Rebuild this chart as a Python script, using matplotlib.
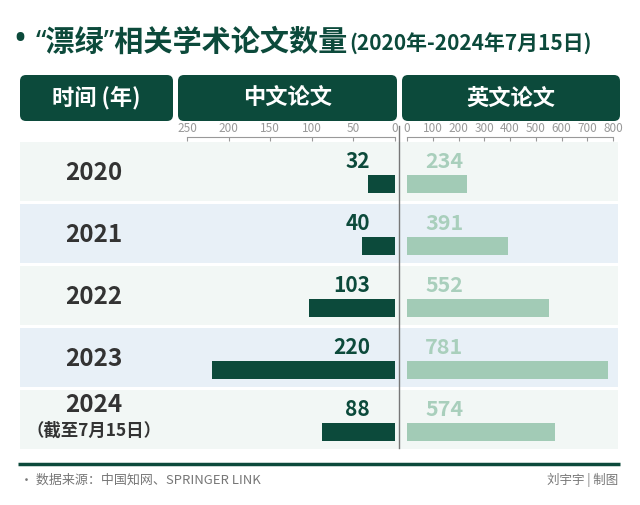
import matplotlib
matplotlib.use('Agg')
import matplotlib.pyplot as plt
from matplotlib.patches import FancyBboxPatch, Rectangle

plt.rcParams['font.family'] = ['Noto Sans CJK SC', 'DejaVu Sans']

# 数据
years = ['2020', '2021', '2022', '2023', '2024']
cn_papers = [32, 40, 103, 220, 88]
en_papers = [234, 391, 552, 781, 574]
cn_ticks = [250, 200, 150, 100, 50, 0]
en_ticks = [0, 100, 200, 300, 400, 500, 600, 700, 800]

DARK = '#0c4a3b'
LIGHT = '#a2cbb6'
LIGHT_TXT = '#a9cfbc'
ROW_A = '#f2f7f5'
ROW_B = '#e8f0f7'
GREY = '#999999'

W, H = 640, 505
fig = plt.figure(figsize=(W / 100, H / 100), dpi=100)
fig.patch.set_facecolor('white')

# 背景层, 像素坐标
bg = fig.add_axes([0, 0, 1, 1])
bg.set_xlim(0, W)
bg.set_ylim(H, 0)
bg.axis('off')

def row_y(i):
    return 184 + 62 * i

# 标题 (引号用西文字体, 避免全角)
bg.text(20, 40, '•', fontsize=25, color=DARK, va='center', ha='center',
        family=['Noto Sans'], fontweight='bold')
t = bg.text(36, 51, '“漂绿”相关学术论文数量', fontsize=21, color=DARK,
            va='baseline', ha='left', fontweight='bold',
            family=['Noto Sans', 'Noto Sans CJK SC'])
fig.canvas.draw()
x_end = t.get_window_extent().x1
bg.text(x_end + 1, 51, '(2020年-2024年7月15日)', fontsize=15, color=DARK,
        va='baseline', ha='left', fontweight='bold')

# 表头
for x0, x1, label in [(20, 173, '时间 (年)'), (178, 397, '中文论文'), (402, 620, '英文论文')]:
    bg.add_patch(FancyBboxPatch((x0 + 6, 81), x1 - x0 - 12, 34,
                                boxstyle='round,pad=6', fc=DARK, ec='none'))
    bg.text((x0 + x1) / 2, 98, label, fontsize=16, color='white', fontweight='bold',
            ha='center', va='center')

# 行背景
for i, y in enumerate(years):
    c = row_y(i)
    bg.add_patch(Rectangle((20, c - 42), 598, 58.5, fc=ROW_A if i % 2 == 0 else ROW_B, ec='none'))
    if y == '2024':
        bg.text(94, c - 27, y, fontsize=17.5, color='#333333', fontweight='bold', ha='center', va='center')
        bg.text(94, c - 1, '（截至7月15日）', fontsize=12.5, color='#333333', fontweight='bold',
                ha='center', va='center')
    else:
        bg.text(94, c - 11, y, fontsize=17.5, color='#333333', fontweight='bold', ha='center', va='center')

# 中线
bg.plot([399, 399], [126, 448], color='#777777', lw=1)

# 底部
bg.plot([18, 620], [464, 464], color=DARK, lw=2.5, solid_capstyle='butt')
bg.text(20, 480, '· 数据来源：中国知网、SPRINGER LINK', fontsize=9.4, color='#777777', ha='left', va='center')
bg.text(618, 480, '刘宇宇 | 制图', fontsize=9, color='#777777', ha='right', va='center')

# 条形图层
top_px, bot_px = 137, 460
ylim = ((bot_px - 184) / 62, (top_px - 184) / 62)
ax_b = 1 - bot_px / H
ax_h = (bot_px - top_px) / H

axl = fig.add_axes([187 / W, ax_b, (395 - 187) / W, ax_h])
axr = fig.add_axes([407 / W, ax_b, (613 - 407) / W, ax_h])

ypos = list(range(len(years)))
axl.barh(ypos, cn_papers, height=0.28, color=DARK)
axr.barh(ypos, en_papers, height=0.28, color=LIGHT)
axl.set_xlim(250, 0)
axr.set_xlim(0, 800)
axl.set_xticks(cn_ticks)
axr.set_xticks(en_ticks)

for ax in (axl, axr):
    ax.set_ylim(*ylim)
    ax.set_facecolor('none')
    ax.set_yticks([])
    for s in ('bottom', 'left', 'right'):
        ax.spines[s].set_visible(False)
    ax.spines['top'].set_color(GREY)
    ax.spines['top'].set_linewidth(0.8)
    ax.xaxis.tick_top()
    ax.tick_params(axis='x', direction='in', length=3, color=GREY, labelcolor=GREY,
                   labelsize=8.5, pad=1.5)

for i, v in enumerate(cn_papers):
    axl.annotate(str(v), xy=(0, i), xytext=(-18, 16.5), textcoords='offset points',
                 ha='right', va='center', fontsize=15, fontweight='bold', color=DARK)
for i, v in enumerate(en_papers):
    axr.annotate(str(v), xy=(0, i), xytext=(13, 16.5), textcoords='offset points',
                 ha='left', va='center', fontsize=15.5, fontweight='bold', color=LIGHT_TXT)

fig.savefig('out.png', dpi=100)
